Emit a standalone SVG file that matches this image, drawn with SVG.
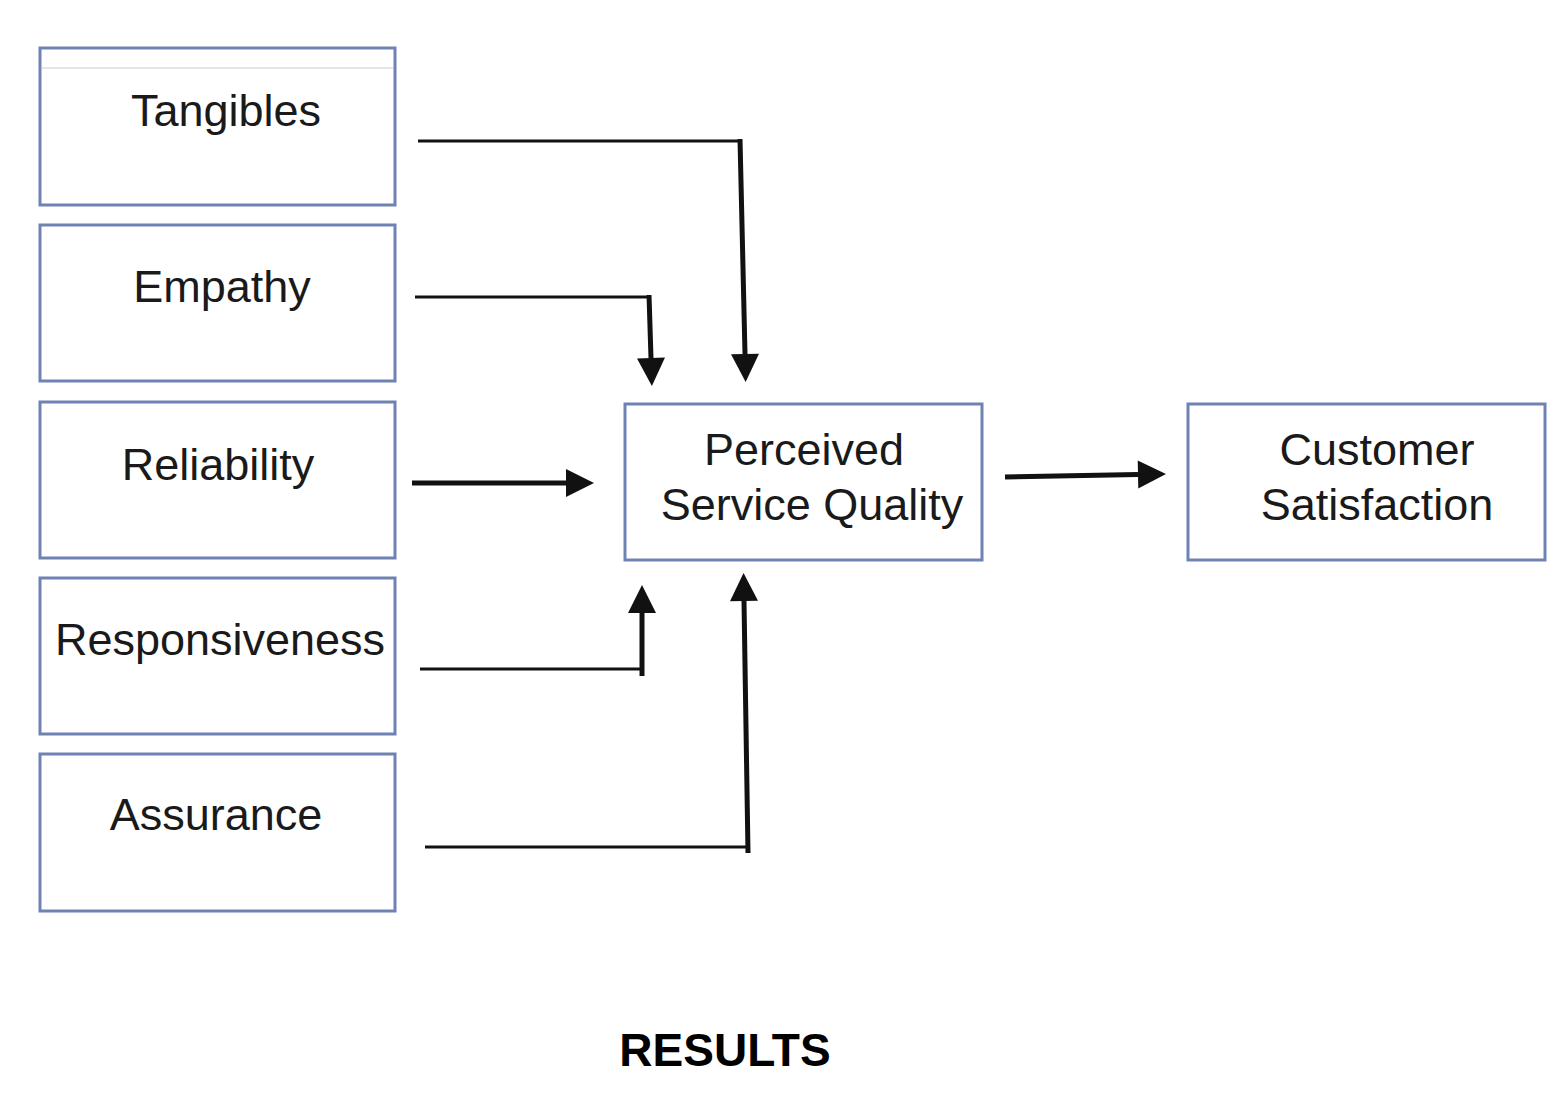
<svg xmlns="http://www.w3.org/2000/svg" width="1549" height="1118" viewBox="0 0 1549 1118">
<style>
.box{fill:#fff;stroke:#6f82b3;stroke-width:3}
.lbl{font-family:"Liberation Sans",Arial,sans-serif;font-size:45px;fill:#1a1a1a;text-anchor:middle}
.thin{fill:none;stroke:#111;stroke-width:3}
.thick{fill:none;stroke:#111;stroke-width:5}
</style>
<defs>
<marker id="ah" markerUnits="userSpaceOnUse" markerWidth="28" markerHeight="28" refX="0" refY="14" orient="auto" overflow="visible">
<path d="M0,0 L28,14 L0,28 z" fill="#111"/>
</marker>
</defs>
<rect width="1549" height="1118" fill="#fff"/>
<g id="tangibles">
<rect class="box" x="40" y="48" width="355" height="157"/>
<line x1="42" y1="68" x2="393" y2="68" stroke="#dcdcdc" stroke-width="1.5"/>
<text class="lbl" x="226" y="126">Tangibles</text>
</g>
<g id="empathy">
<rect class="box" x="40" y="225" width="355" height="156"/>
<text class="lbl" x="222" y="302">Empathy</text>
</g>
<g id="reliability">
<rect class="box" x="40" y="402" width="355" height="156"/>
<text class="lbl" x="218" y="480">Reliability</text>
</g>
<g id="responsiveness">
<rect class="box" x="40" y="578" width="355" height="156"/>
<text class="lbl" x="220" y="655">Responsiveness</text>
</g>
<g id="assurance">
<rect class="box" x="40" y="754" width="355" height="157"/>
<text class="lbl" x="216" y="830">Assurance</text>
</g>
<g id="psq">
<rect class="box" x="625" y="404" width="357" height="156"/>
<text class="lbl" x="804" y="465">Perceived</text>
<text class="lbl" x="812" y="520">Service Quality</text>
</g>
<g id="cs">
<rect class="box" x="1188" y="404" width="357" height="156"/>
<text class="lbl" x="1377" y="465">Customer</text>
<text class="lbl" x="1377" y="520">Satisfaction</text>
</g>
<g id="connectors">
<path class="thin" d="M418,141 H742"/>
<path class="thick" d="M740,139 L745,354" marker-end="url(#ah)"/>
<path class="thin" d="M415,297 H651"/>
<path class="thick" d="M649,295 L651,358" marker-end="url(#ah)"/>
<path class="thick" d="M412,483 H566" marker-end="url(#ah)"/>
<path class="thin" d="M420,669 H644"/>
<path class="thick" d="M642,676 V613" marker-end="url(#ah)"/>
<path class="thin" d="M425,847 H750"/>
<path class="thick" d="M748,853 L744,601" marker-end="url(#ah)"/>
<path class="thick" d="M1005,477 L1138,474.5" marker-end="url(#ah)"/>
</g>
<text x="725" y="1066" font-family="Liberation Sans,Arial,sans-serif" font-size="46" font-weight="bold" text-anchor="middle" fill="#000">RESULTS</text>
</svg>
